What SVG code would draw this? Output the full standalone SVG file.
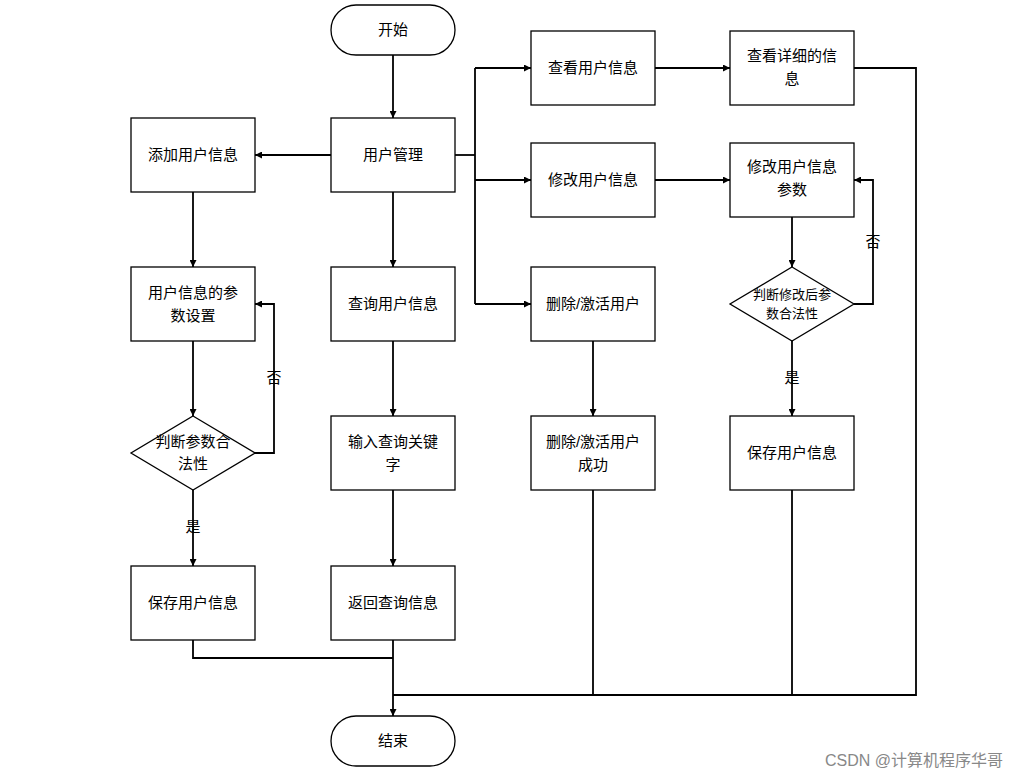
<svg xmlns="http://www.w3.org/2000/svg" width="1020" height="778" viewBox="0 0 1020 778">
<style>
.b{fill:#fff;stroke:#000;stroke-width:1.3}
.t{font-family:"Liberation Sans","Noto Sans CJK SC",sans-serif;font-size:15px;text-anchor:middle;fill:#000}
.s{font-size:13px}
.c{fill:none;stroke:#000;stroke-width:1.8}
</style>
<defs><marker id="a" viewBox="0 0 10 10" refX="10" refY="5" markerWidth="7" markerHeight="7" markerUnits="userSpaceOnUse" orient="auto"><path d="M0,0L10,5L0,10z"/></marker></defs>
<rect width="1020" height="778" fill="#fff"/>
<g id="connectors" class="c">
<path d="M393,55V118" marker-end="url(#a)"/>
<path d="M331,155H255" marker-end="url(#a)"/>
<path d="M393,192V267" marker-end="url(#a)"/>
<path d="M455,155H475"/>
<path d="M475,68V304"/>
<path d="M475,68H531" marker-end="url(#a)"/>
<path d="M475,180H531" marker-end="url(#a)"/>
<path d="M475,304H531" marker-end="url(#a)"/>
<path d="M655,68H730" marker-end="url(#a)"/>
<path d="M854,68H916V695H393"/>
<path d="M655,180H730" marker-end="url(#a)"/>
<path d="M792,217V267" marker-end="url(#a)"/>
<path d="M854,304H873V180H854" marker-end="url(#a)"/>
<path d="M792,341V416" marker-end="url(#a)"/>
<path d="M792,490V695"/>
<path d="M593,341V416" marker-end="url(#a)"/>
<path d="M593,490V695"/>
<path d="M193,192V267" marker-end="url(#a)"/>
<path d="M193,341V416" marker-end="url(#a)"/>
<path d="M255,453H274V304H255" marker-end="url(#a)"/>
<path d="M193,490V566" marker-end="url(#a)"/>
<path d="M193,640V658H393"/>
<path d="M393,341V416" marker-end="url(#a)"/>
<path d="M393,490V566" marker-end="url(#a)"/>
<path d="M393,640V716" marker-end="url(#a)"/>
</g>
<g class="t">
<text x="274" y="383">否</text>
<text x="193" y="532">是</text>
<text x="873" y="247">否</text>
<text x="792" y="383">是</text>
</g>
<g id="start"><rect class="b" x="331" y="5" width="124" height="50" rx="25"/><text class="t" x="393" y="35">开始</text></g>
<g id="end"><rect class="b" x="331" y="716" width="124" height="50" rx="25"/><text class="t" x="393" y="746">结束</text></g>
<g id="n1"><rect class="b" x="331" y="118" width="124" height="74"/><text class="t" x="393" y="160">用户管理</text></g>
<g id="n2"><rect class="b" x="131" y="118" width="124" height="74"/><text class="t" x="193" y="160">添加用户信息</text></g>
<g id="n3"><rect class="b" x="131" y="267" width="124" height="74"/><text class="t" x="193" y="298">用户信息的参</text><text class="t" x="193" y="321">数设置</text></g>
<g id="n4"><path class="b" d="M193,416L255,453L193,490L131,453z"/><text class="t" x="193" y="447">判断参数合</text><text class="t" x="193" y="469">法性</text></g>
<g id="n5"><rect class="b" x="131" y="566" width="124" height="74"/><text class="t" x="193" y="608">保存用户信息</text></g>
<g id="n6"><rect class="b" x="331" y="267" width="124" height="74"/><text class="t" x="393" y="309">查询用户信息</text></g>
<g id="n7"><rect class="b" x="331" y="416" width="124" height="74"/><text class="t" x="393" y="447">输入查询关键</text><text class="t" x="393" y="470">字</text></g>
<g id="n8"><rect class="b" x="331" y="566" width="124" height="74"/><text class="t" x="393" y="608">返回查询信息</text></g>
<g id="n9"><rect class="b" x="531" y="31" width="124" height="74"/><text class="t" x="593" y="73">查看用户信息</text></g>
<g id="n10"><rect class="b" x="531" y="143" width="124" height="74"/><text class="t" x="593" y="185">修改用户信息</text></g>
<g id="n11"><rect class="b" x="531" y="267" width="124" height="74"/><text class="t" x="593" y="309">删除/激活用户</text></g>
<g id="n12"><rect class="b" x="531" y="416" width="124" height="74"/><text class="t" x="593" y="447">删除/激活用户</text><text class="t" x="593" y="470">成功</text></g>
<g id="n13"><rect class="b" x="730" y="31" width="124" height="74"/><text class="t" x="792" y="61">查看详细的信</text><text class="t" x="792" y="84">息</text></g>
<g id="n14"><rect class="b" x="730" y="143" width="124" height="74"/><text class="t" x="792" y="172">修改用户信息</text><text class="t" x="792" y="195">参数</text></g>
<g id="n15"><path class="b" d="M792,267L854,304L792,341L730,304z"/><text class="t s" x="792" y="299">判断修改后参</text><text class="t s" x="792" y="318">数合法性</text></g>
<g id="n16"><rect class="b" x="730" y="416" width="124" height="74"/><text class="t" x="792" y="458">保存用户信息</text></g>
<text x="1003" y="766" style="font-family:'Liberation Sans','Noto Sans CJK SC',sans-serif;font-size:16px;fill:#888;text-anchor:end">CSDN @计算机程序华哥</text>
</svg>
